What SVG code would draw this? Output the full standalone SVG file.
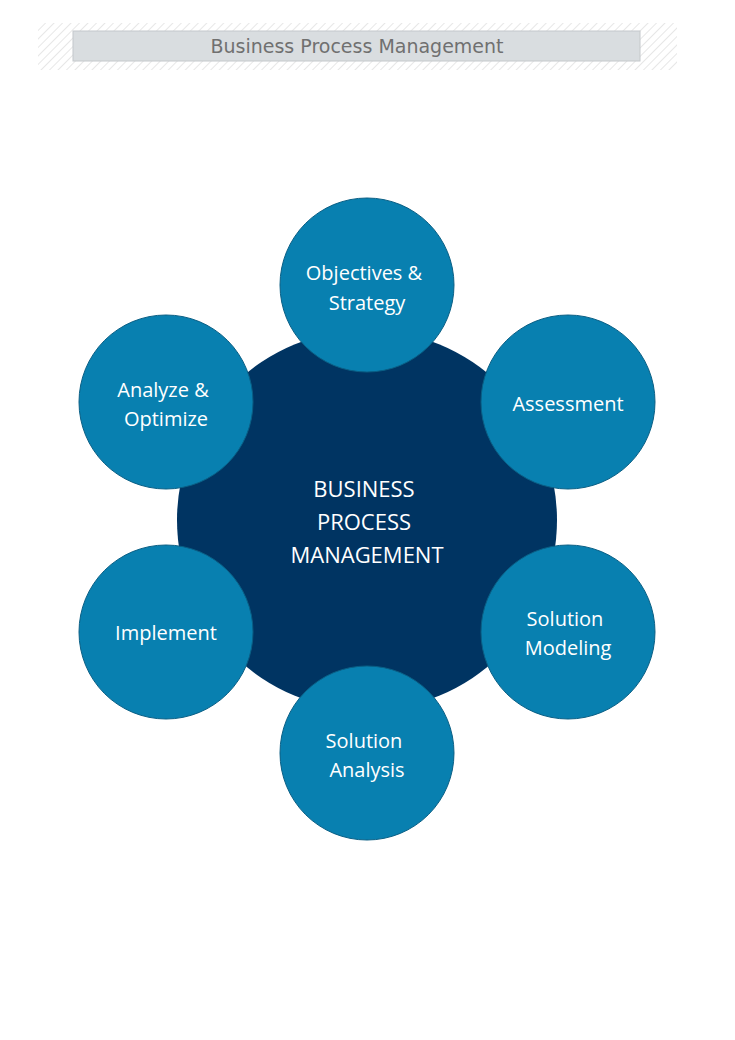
<svg xmlns="http://www.w3.org/2000/svg" width="735" height="1040" viewBox="0 0 735 1040">
<defs>
<pattern id="hatch" width="6" height="6" patternUnits="userSpaceOnUse" patternTransform="rotate(45)">
<rect width="6" height="6" fill="#ffffff"/><line x1="0" y1="0" x2="0" y2="6" stroke="#d0d0d0" stroke-width="1"/>
</pattern>
<style>
.s{fill:#0880b0;stroke:#0a5f85;stroke-width:1}
.t{font-family:"Open Sans","Noto Sans",sans-serif;font-size:20px;fill:#ffffff;text-anchor:middle}
</style>
</defs>
<rect width="735" height="1040" fill="#ffffff"/>
<g id="title">
<rect x="38" y="23" width="639" height="47" fill="url(#hatch)"/>
<rect x="73" y="31" width="567" height="30" fill="#d9dde0" stroke="#c4c8cb"/>
<text x="357" y="53" font-family="DejaVu Sans,sans-serif" font-size="19" fill="#707070" text-anchor="middle">Business Process Management</text>
</g>
<g id="connectors"/>
<g id="center">
<circle cx="367" cy="520" r="190" fill="#003462"/>
<text class="t" font-size="22" style="font-size:22px"><tspan x="364" y="497">BUSINESS</tspan><tspan x="364" y="530">PROCESS</tspan><tspan x="367" y="563">MANAGEMENT</tspan></text>
</g>
<g id="objectives"><circle class="s" cx="367" cy="285" r="87"/><text class="t"><tspan x="364" y="280">Objectives &amp;</tspan><tspan x="367" y="310">Strategy</tspan></text></g>
<g id="assessment"><circle class="s" cx="568" cy="402" r="87"/><text class="t" x="568" y="411">Assessment</text></g>
<g id="modeling"><circle class="s" cx="568" cy="632" r="87"/><text class="t"><tspan x="565" y="626">Solution</tspan><tspan x="568" y="655">Modeling</tspan></text></g>
<g id="analysis"><circle class="s" cx="367" cy="753" r="87"/><text class="t"><tspan x="364" y="748">Solution</tspan><tspan x="367" y="777">Analysis</tspan></text></g>
<g id="implement"><circle class="s" cx="166" cy="632" r="87"/><text class="t" x="166" y="640">Implement</text></g>
<g id="analyze"><circle class="s" cx="166" cy="402" r="87"/><text class="t"><tspan x="163" y="397">Analyze &amp;</tspan><tspan x="166" y="426">Optimize</tspan></text></g>
</svg>
